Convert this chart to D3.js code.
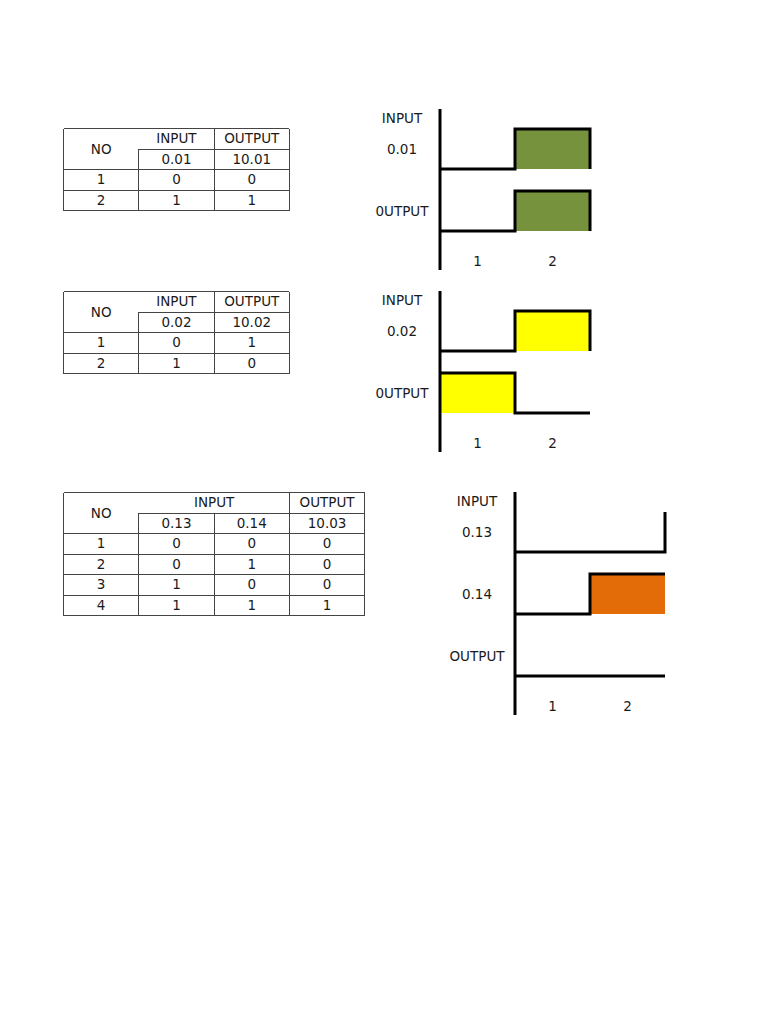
<!DOCTYPE html>
<html>
<head>
<meta charset="utf-8">
<title>Logic timing tables</title>
<script src="https://d3js.org/d3.v7.min.js"></script>
<style>
  body { margin: 0; background: #fff; }
  text { font-family: "DejaVu Sans", Verdana, sans-serif; font-size: 13.5px; fill: #1a1a1a; }
</style>
</head>
<body>
<svg id="chart" width="768" height="1024"></svg>
<script>
// ---- data ----
// tables
var table1Head = ["INPUT", "OUTPUT"];
var table1Sub = ["0.01", "10.01"];
var table1Rows = [["1", "0", "0"], ["2", "1", "1"]];

var table2Head = ["INPUT", "OUTPUT"];
var table2Sub = ["0.02", "10.02"];
var table2Rows = [["1", "0", "1"], ["2", "1", "0"]];

var table3Head = ["INPUT", "OUTPUT"];
var table3HeadSpan = [2, 1];
var table3Sub = ["0.13", "0.14", "10.03"];
var table3Rows = [["1", "0", "0", "0"], ["2", "0", "1", "0"], ["3", "1", "0", "0"], ["4", "1", "1", "1"]];

// timing charts: value at steps 1, 2 and the edge after step 2
var steps = ["1", "2"];
var chart1Labels = ["0.01", "0UTPUT"];
var chart1Values = [[0, 1, 0], [0, 1, 0]];
var chart2Labels = ["0.02", "0UTPUT"];
var chart2Values = [[0, 1, 0], [1, 0, 0]];
var chart3Labels = ["0.13", "0.14", "OUTPUT"];
var chart3Values = [[0, 0, 1], [0, 1, 1], [0, 0, 0]];

var svg = d3.select("#chart");
svg.append("rect").attr("width", 768).attr("height", 1024).attr("fill", "#fff");

var colW = 75.3, rowH = 20.5;

function drawTable(x0, y0, head, headSpan, sub, rows) {
  var g = svg.append("g").attr("transform", "translate(" + x0 + "," + y0 + ")");
  var nCols = sub.length + 1;
  var nRows = rows.length + 2;
  var W = nCols * colW, H = nRows * rowH;
  var line = function(x1, y1, x2, y2) {
    g.append("line").attr("x1", x1).attr("y1", y1).attr("x2", x2).attr("y2", y2)
      .attr("stroke", "#444").attr("stroke-width", 1).attr("shape-rendering", "crispEdges");
  };
  // outer box
  line(0, 0, W, 0); line(0, H, W, H); line(0, 0, 0, H); line(W, 0, W, H);
  // NO cell
  g.append("text").attr("x", colW / 2).attr("y", rowH - 0.5).attr("text-anchor", "middle")
    .attr("dominant-baseline", "central").text("NO");
  // header row
  var cx = colW;
  head.forEach(function(h, i) {
    var span = headSpan ? headSpan[i] : 1;
    g.append("text").attr("x", cx + span * colW / 2).attr("y", rowH / 2 - 0.5)
      .attr("text-anchor", "middle").attr("dominant-baseline", "central").text(h);
    cx += span * colW;
    if (i < head.length - 1) line(cx, 0, cx, H);
  });
  line(colW, rowH, W, rowH);
  // sub header
  sub.forEach(function(s, i) {
    var x = colW + i * colW;
    line(x, rowH, x, H);
    g.append("text").attr("x", x + colW / 2).attr("y", rowH * 1.5 - 0.5)
      .attr("text-anchor", "middle").attr("dominant-baseline", "central").text(s);
  });
  // body rows
  rows.forEach(function(r, ri) {
    var y = (ri + 2) * rowH;
    line(0, y, W, y);
    r.forEach(function(v, ci) {
      g.append("text").attr("x", ci * colW + colW / 2).attr("y", y + rowH / 2 - 0.5)
        .attr("text-anchor", "middle").attr("dominant-baseline", "central").text(v);
    });
  });
}

function drawTiming(axisX, top, labels, values, color) {
  var g = svg.append("g");
  var x = d3.scaleLinear().domain([0, 2]).range([axisX, axisX + 150]);
  var lastBase = top + 60 + 62 * (labels.length - 1);

  g.append("text").attr("x", axisX - 38).attr("y", top + 9).attr("text-anchor", "middle")
    .attr("dominant-baseline", "central").text("INPUT");

  labels.forEach(function(lab, i) {
    var high = top + 20 + 62 * i, base = top + 60 + 62 * i;
    var y = d3.scaleLinear().domain([0, 1]).range([base, high]);
    var pts = values[i].map(function(v, t) { return [t, v]; });
    var fillPts = [[0, values[i][0]], [1, values[i][1]], [2, values[i][1]]];

    g.append("path").datum(fillPts)
      .attr("fill", color).attr("stroke", "none")
      .attr("d", d3.area().curve(d3.curveStepAfter)
        .x(function(d) { return x(d[0]); })
        .y0(base)
        .y1(function(d) { return y(d[1]); }));

    g.append("path").datum(pts)
      .attr("fill", "none").attr("stroke", "#000").attr("stroke-width", 3)
      .attr("d", d3.line().curve(d3.curveStepAfter)
        .x(function(d) { return x(d[0]); })
        .y(function(d) { return y(d[1]); }));

    g.append("text").attr("x", axisX - 38).attr("y", high + 19.5).attr("text-anchor", "middle")
      .attr("dominant-baseline", "central").text(lab);
  });

  g.append("line").attr("x1", axisX).attr("x2", axisX)
    .attr("y1", top).attr("y2", lastBase + 39)
    .attr("stroke", "#000").attr("stroke-width", 3);

  g.selectAll(".tick").data(steps).enter().append("text")
    .attr("x", function(d, i) { return x(i + 0.5); })
    .attr("y", lastBase + 29.5)
    .attr("text-anchor", "middle").attr("dominant-baseline", "central")
    .text(function(d) { return d; });
}

drawTable(63.5, 128.5, table1Head, null, table1Sub, table1Rows);
drawTable(63.5, 291.5, table2Head, null, table2Sub, table2Rows);
drawTable(63.5, 492.5, table3Head, table3HeadSpan, table3Sub, table3Rows);

drawTiming(440, 109, chart1Labels, chart1Values, "#76923C");
drawTiming(440, 291, chart2Labels, chart2Values, "#FFFF00");
drawTiming(515, 492, chart3Labels, chart3Values, "#E36C09");
</script>
</body>
</html>
